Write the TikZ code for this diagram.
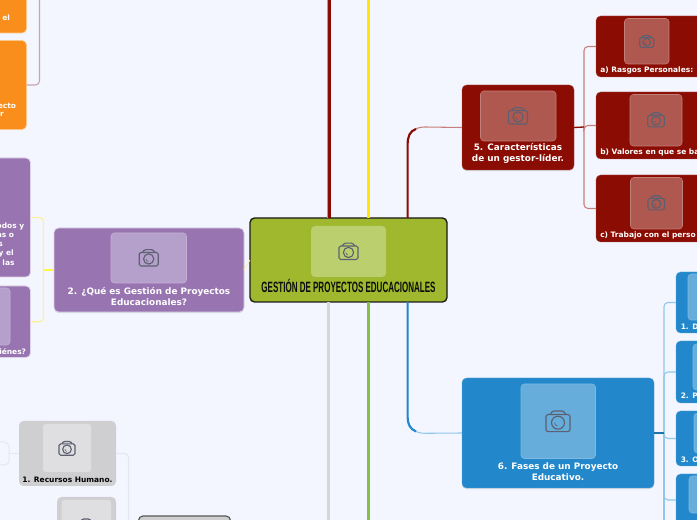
\documentclass[tikz,border=0pt]{standalone}
\usepackage{fontspec}
\usetikzlibrary{shadows}
\setmainfont{DejaVu Sans}
\newfontfamily\condfont[FakeStretch=0.537]{Liberation Sans}
\definecolor{bgc}{HTML}{F3F6FF}
\definecolor{rootc}{HTML}{A0B82D}
\definecolor{rootim}{HTML}{BBCF6E}
\definecolor{purc}{HTML}{9874B0}
\definecolor{purim}{HTML}{B59FCB}
\definecolor{purbd}{HTML}{DDD2E8}
\definecolor{redc}{HTML}{8A0C02}
\definecolor{redim}{HTML}{AE5850}
\definecolor{redbd}{HTML}{C27F78}
\definecolor{bluec}{HTML}{2388CB}
\definecolor{blueim}{HTML}{66ADDB}
\definecolor{bluebd}{HTML}{7DBAE1}
\definecolor{orac}{HTML}{F98E1C}
\definecolor{orabd}{HTML}{FBC78A}
\definecolor{grayc}{HTML}{CFCFD1}
\definecolor{grayim}{HTML}{DFDFE1}
\definecolor{iconc}{HTML}{5C6070}
\definecolor{palered}{HTML}{C77F7A}
\definecolor{paleblue}{HTML}{92C6EA}
\definecolor{paleyel}{HTML}{FBF0A0}
\definecolor{paleor}{HTML}{C9A4AE}
\definecolor{palegray}{HTML}{E5E7F0}
\tikzset{
  boxbase/.style={rectangle,rounded corners=3.4pt,inner sep=0pt,outer sep=0pt},
  rootbox/.style={boxbase,fill=rootc,draw=black!90,line width=1pt},
  purbox/.style={boxbase,fill=purc,draw=purbd,line width=.6pt},
  softshadow/.style={drop shadow={shadow xshift=0pt,shadow yshift=-.8pt,fill=black,opacity=.12}},
  redbox/.style={boxbase,fill=redc,draw=redc!70!white,line width=.3pt},
  bluebox/.style={boxbase,fill=bluec,draw=bluec!75!white,line width=.3pt},
  orabox/.style={boxbase,fill=orac,draw=orabd,line width=.5pt},
  graybox/.style={boxbase,fill=grayc},
  darkgray/.style={boxbase,fill=grayc,draw=black!65,line width=.9pt},
  stubbox/.style={boxbase,fill=bgc,draw=palegray,line width=.75pt},
  rootimg/.style={boxbase,rounded corners=3pt,fill=rootim},
  purimg/.style={boxbase,rounded corners=2.5pt,fill=purim,draw=purim!80!white,line width=.4pt},
  redimg/.style={boxbase,rounded corners=2.5pt,fill=redim,draw=redbd,line width=.4pt},
  blueimg/.style={boxbase,rounded corners=2.5pt,fill=blueim,draw=bluebd,line width=.4pt},
  grayimg/.style={boxbase,rounded corners=2pt,fill=grayim},
  bigtext/.style={font=\fontsize{6.65}{8.25}\selectfont\bfseries,text=white,align=center,inner sep=0pt},
  smalltext/.style={font=\fontsize{5.6}{6.75}\selectfont\bfseries,text=white,inner sep=0pt},
  roottext/.style={font=\fontsize{11.2}{12}\selectfont\condfont\bfseries,text=black!95,inner sep=0pt},
  trunkline/.style={line width=2.3pt},
  link/.style={line width=.8pt,rounded corners=3pt},
}
\newcommand{\mybox}[6][]{\node[#2,#1,minimum width={(#5-#3*1)*0.75pt},minimum height={(#6-#4*1)*0.75pt}] at ({(#3+#5)/2},{(#4+#6)/2})}
\newcommand{\camicon}[3]{%
  \begin{scope}[shift={(#1,#2)},x=#3*0.75pt,y=-#3*0.75pt,iconc,line width=.85pt,line join=round]
    \draw[rounded corners=1.2pt] (-.5,-.29) rectangle (.5,.42);
    \draw[rounded corners=1pt] (-.33,-.29) -- (-.22,-.44) -- (.22,-.44) -- (.33,-.29);
    \draw (0,.05) circle[radius=.27];
    \draw[line width=.45pt] (-.14,.05) arc[start angle=180,end angle=100,radius=.14];
  \end{scope}}
\begin{document}
\begin{tikzpicture}[x=0.75pt,y=-0.75pt]
\useasboundingbox (0,0) rectangle (697,520);
\fill[bgc] (0,0) rectangle (697,520);
\clip (0,0) rectangle (697,520);

% free ends of the connectors
\coordinate (topred) at (329,-10);
\coordinate (topyel) at (368.3,-10);
\coordinate (botgray) at (328.6,530);
\coordinate (botgreen) at (368.3,530);
\coordinate (ortop) at (39.5,-30);
\coordinate (redtrunk) at (584,127);
\coordinate (bluetrunk) at (664,433);
\coordinate (yeltrunk) at (43.5,270);
\coordinate (graytrunk) at (128.5,560);
\coordinate (redroot) at (407.6,218);
\coordinate (blueroot) at (407.6,302);

% nodes
\mybox{rootbox}{250}{218}{447}{302} (root) {};
\mybox[softshadow]{purbox}{54}{228}{244}{312} (n2) {};
\mybox[softshadow]{redbox}{462}{85}{574}{170} (n5) {};
\mybox[softshadow]{bluebox}{462}{378}{654}{488} (n6) {};
\mybox{purbox}{-60}{158}{30.5}{277} (p1) {};
\mybox{purbox}{-60}{286}{30.5}{357.5} (p2) {};
\mybox{orabox}{-60}{-40}{26.5}{33} (o1) {};
\mybox{orabox}{-60}{40.5}{26.5}{129.5} (o2) {};
\mybox{redbox}{596}{16}{760}{77} (ra) {};
\mybox{redbox}{596}{92}{760}{159} (rb) {};
\mybox{redbox}{596}{175}{760}{242} (rc) {};
\mybox{bluebox}{676}{272}{760}{333} (b1) {};
\mybox{bluebox}{676}{341}{760}{403} (b2) {};
\mybox{bluebox}{676}{411}{760}{466} (b3) {};
\mybox{bluebox}{676}{474}{760}{526} (b4) {};
\mybox{graybox}{19}{421}{116}{486} (g1) {};
\mybox{graybox}{57}{497}{116}{570} (g2) {};
\mybox{darkgray}{138.5}{516}{230.5}{604} (gp) {};
\mybox{stubbox}{-40}{442}{9}{465} (gs) {};

% image placeholders
\mybox{rootimg}{311}{226}{386}{277} (iroot) {};
\mybox{purimg}{111}{233}{186.5}{283} (in2) {};
\mybox{redimg}{480.5}{91}{556}{141} (in5) {};
\mybox{blueimg}{521}{384}{595.5}{458.5} (in6) {};
\mybox{purimg}{-60}{288}{10}{345} (ip2) {};
\mybox{redimg}{624.5}{18.5}{669}{64} (ira) {};
\mybox{redimg}{630}{94.5}{682}{146} (irb) {};
\mybox{redimg}{630.5}{177.5}{682.5}{229} (irc) {};
\mybox{blueimg}{688}{274}{760}{320} (ib1) {};
\mybox{blueimg}{693}{344}{760}{390} (ib2) {};
\mybox{blueimg}{694}{413}{760}{453} (ib3) {};
\mybox{blueimg}{689}{476}{760}{513} (ib4) {};
\mybox{grayimg}{43}{424}{91}{472} (ig1) {};
\mybox{grayimg}{61.5}{500}{111}{560} (ig2) {};

% cameras
\camicon{348.5}{251.5}{19}
\camicon{148.7}{258}{19}
\camicon{518}{116}{19}
\camicon{558}{421.5}{24}
\camicon{646.7}{41.5}{14}
\camicon{656}{120}{16.5}
\camicon{656.3}{203}{16.5}
\camicon{67}{448.5}{16}
\camicon{86}{526}{16}

% texts
\node[roottext] (troot) at (348.5,286.3) {GESTIÓN DE PROYECTOS EDUCACIONALES};
\node[bigtext] (tn2) at (149,296.5) {2. ¿Qué es Gestión de Proyectos\\Educacionales?};
\node[bigtext] (tn5) at (518,153.5) {5. Características\\de un gestor-líder.};
\node[bigtext] (tn6) at (558,471.5) {6. Fases de un Proyecto\\Educativo.};
\node[smalltext,anchor=west] (tra) at (600,70.5) {a) Rasgos Personales:};
\node[smalltext,anchor=west] (trb) at (600,152.5) {b) Valores en que se ba};
\node[smalltext,anchor=west] (trc) at (600,235.5) {c) Trabajo con el perso};
\node[smalltext,anchor=west] (tb1) at (680.5,327) {1. D};
\node[smalltext,anchor=west] (tb2) at (680.5,396) {2. P};
\node[smalltext,anchor=west] (tb3) at (680.5,459.5) {3. O};
\node[smalltext,anchor=east] (to1) at (10.3,17.3) {el};
\node[smalltext,anchor=east] (to2a) at (16.3,105.5) {ecto};
\node[smalltext,anchor=east] (to2b) at (4,114.3) {r};
\node[smalltext,anchor=east] (tp1a) at (24.5,226.5) {odos y};
\node[smalltext,anchor=east] (tp1b) at (14.3,235.5) {as o};
\node[smalltext,anchor=east] (tp1c) at (3,244.5) {s};
\node[smalltext,anchor=east] (tp1d) at (14,253.5) {y el};
\node[smalltext,anchor=east] (tp1e) at (14.8,262.5) {las};
\node[smalltext,anchor=east] (tp2) at (26.3,351.5) {iénes?};
\node[smalltext,text=black,anchor=center] (tg1) at (67.5,479.5) {1. Recursos Humano.};

% connectors from the root
\draw[trunkline,redc!45!white,line width=3.2pt] (topred) -- (topred |- root.north);
\draw[trunkline,redc] ([xshift=.4pt]topred) -- ([xshift=.4pt]topred |- root.north);
\draw[trunkline,color=yellow!90!orange] (topyel) -- (topyel |- root.north);
\draw[trunkline,color=black!16] (botgray) -- (botgray |- root.south);
\draw[trunkline,color={rgb,255:red,132;green,194;blue,65}] (botgreen) -- (botgreen |- root.south);
\draw[line width=.8pt,palered] (redroot) -- (407.6,145) .. controls (407.6,133) and (414,127) .. (425,127) -- (n5.west);
\draw[line width=1.6pt,redc] (redroot) -- (407.6,145) .. controls (407.6,136) and (410,131) .. (416,129);
\draw[line width=.8pt,paleblue] (blueroot) -- (407.6,417) .. controls (407.6,427) and (414,433.3) .. (425,433.3) -- (n6.west);
\draw[line width=1.6pt,bluec] (blueroot) -- (407.6,417) .. controls (407.6,424) and (410,429) .. (416,431.5);
\draw[line width=.6pt,paleyel] (n2.east) -- (root.west);

% branch connectors
\draw[link,palered] (redtrunk) |- (ra.west);
\draw[link,palered] (redtrunk) |- (rb.west);
\draw[link,palered] (redtrunk) |- (rc.west);
\draw[line width=1pt,redc] (n5.east) -- (redtrunk);
\draw[link,paleblue] (bluetrunk) |- (b1.west);
\draw[link,paleblue] (bluetrunk) |- (b2.west);
\draw[link,paleblue] (bluetrunk) |- (b3.west);
\draw[link,paleblue] (bluetrunk) |- (b4.west);
\draw[link,paleblue] (bluetrunk) -- (664,530);
\draw[line width=.9pt,bluec!85!black] (n6.east) -- (bluetrunk);
\draw[link,paleyel] (yeltrunk) |- (p1.east);
\draw[link,paleyel] (yeltrunk) |- (p2.east);
\draw[line width=1pt,color=yellow!70!white] (n2.west) -- (yeltrunk);
\draw[link,paleor] (o2.east) -| (ortop);
\draw[link,palegray] (g1.east) -| (graytrunk) -- (gp.west);
\draw[link,palegray] (gs.east) -- (g1.west);
\end{tikzpicture}
\end{document}
